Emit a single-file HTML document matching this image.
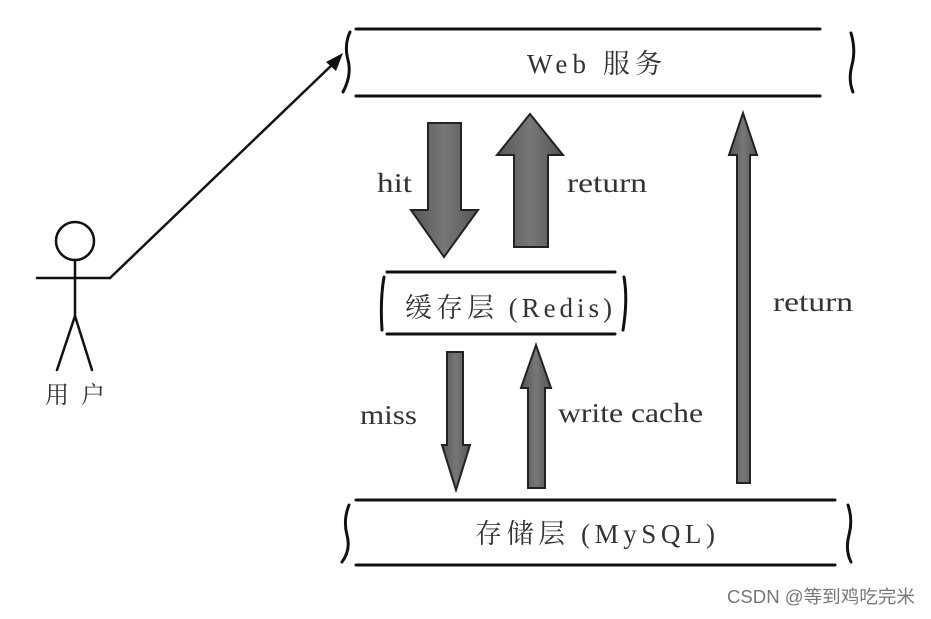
<!DOCTYPE html>
<html><head><meta charset="utf-8"><style>
body{margin:0;background:#fff;width:931px;height:614px;overflow:hidden}
svg text{font-family:"Liberation Serif","Noto Serif CJK SC",serif;fill:#333}
</style></head><body>
<svg width="931" height="614" viewBox="0 0 931 614">
<defs><linearGradient id="g" x1="0" x2="1"><stop offset="0" stop-color="#555"/><stop offset="0.5" stop-color="#777"/><stop offset="1" stop-color="#555"/></linearGradient></defs>
<g stroke="#111" stroke-width="3" fill="none" stroke-linecap="round">
<line x1="356" y1="29" x2="820" y2="29"/><line x1="356" y1="96" x2="820" y2="96"/>
<path d="M350 32 Q344 45 348 60 Q352 75 343 92"/><path d="M851 33 Q856 50 852 65 Q848 80 853 92"/>
<line x1="387" y1="272" x2="615" y2="272"/><line x1="387" y1="334" x2="615" y2="334"/>
<path d="M384 277 Q380 300 382 330"/><path d="M624 277 Q628 300 623 330"/>
<line x1="356" y1="500" x2="835" y2="500"/><line x1="356" y1="565" x2="835" y2="565"/>
<path d="M349 505 Q343 520 347 535 Q351 550 342 562"/><path d="M848 505 Q853 520 849 535 Q845 550 851 562"/>
<circle cx="75" cy="241" r="19" stroke-width="2.5"/>
<line x1="75" y1="260" x2="75" y2="316" stroke-width="2.5"/>
<line x1="37" y1="278" x2="110" y2="278" stroke-width="2.5"/>
<path d="M75 316 L57 370 M75 316 L92 370" stroke-width="2.5"/>
<line x1="110" y1="278" x2="335" y2="62" stroke-width="2.5"/>
</g>
<polygon points="343,53 326,62 336,71" fill="#111"/>
<g fill="url(#g)" stroke="#222" stroke-width="2">
<polygon points="428,123 461,123 461,210 478,210 444,257 411,210 428,210"/>
<polygon points="514,247 548,247 548,155 563,155 530,114 497,155 514,155"/>
<polygon points="447,352 463,352 463,445 470,445 456,490 442,445 447,445"/>
<polygon points="528,488 545,488 545,388 551,388 536,345 521,388 528,388"/>
<polygon points="737,483 750,483 750,155 757,155 743,113 729,155 737,155"/>
</g>
<g font-size="27">
<text x="527" y="73" textLength="135" lengthAdjust="spacing">Web 服务</text>
<text x="405" y="317" textLength="207" lengthAdjust="spacing">缓存层 (Redis)</text>
<text x="475" y="543" textLength="240" lengthAdjust="spacing">存储层 (MySQL)</text>
<text x="377" y="192" textLength="35" lengthAdjust="spacingAndGlyphs">hit</text>
<text x="567" y="192" textLength="80" lengthAdjust="spacingAndGlyphs">return</text>
<text x="773" y="311" textLength="80" lengthAdjust="spacingAndGlyphs">return</text>
<text x="360" y="424" textLength="57" lengthAdjust="spacingAndGlyphs">miss</text>
<text x="558" y="422" textLength="145" lengthAdjust="spacingAndGlyphs">write cache</text>
<text x="45" y="403" font-size="24" textLength="60" lengthAdjust="spacing">用户</text>
</g>
<text x="727" y="603" font-size="18" textLength="188" lengthAdjust="spacingAndGlyphs" style="font-family:'Liberation Sans','Noto Sans CJK SC',sans-serif;fill:#777">CSDN @等到鸡吃完米</text>
</svg>
</body></html>
